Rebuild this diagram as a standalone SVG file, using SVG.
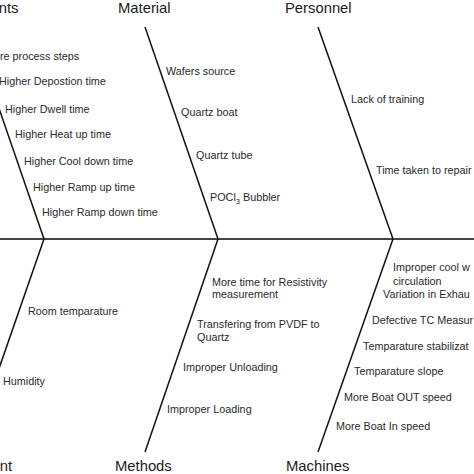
<svg xmlns="http://www.w3.org/2000/svg" width="474" height="474" viewBox="0 0 474 474">
<style>
.cat{font-family:"Liberation Sans",Arial,sans-serif;font-size:14.8px;fill:#1a1a1a}
.lab{font-family:"Liberation Sans",Arial,sans-serif;font-size:10.8px;fill:#2a2a2a}
.bone{stroke:#111;stroke-width:1.5;fill:none}
.spine{stroke:#444;stroke-width:2;fill:none}
</style>
<rect width="474" height="474" fill="#fff"/>
<g id="connectors">
<line class="spine" x1="0" y1="239" x2="474" y2="239"/>
<line class="bone" x1="-29" y1="27" x2="44" y2="239"/>
<line class="bone" x1="145" y1="27" x2="218" y2="239"/>
<line class="bone" x1="318" y1="27" x2="393" y2="239"/>
<line class="bone" x1="44" y1="239" x2="-30" y2="452"/>
<line class="bone" x1="218" y1="239" x2="145" y2="452"/>
<line class="bone" x1="393" y1="239" x2="318" y2="452"/>
</g>
<g id="measurements">
<text class="cat" x="18.5" y="13" text-anchor="end">nts</text>
<text class="lab" x="0" y="60">re process steps</text>
<text class="lab" x="-1" y="85">Higher Depostion time</text>
<text class="lab" x="5" y="113">Higher Dwell time</text>
<text class="lab" x="15" y="138">Higher Heat up time</text>
<text class="lab" x="24" y="165">Higher Cool down time</text>
<text class="lab" x="33" y="191">Higher Ramp up time</text>
<text class="lab" x="42" y="216">Higher Ramp down time</text>
</g>
<g id="material">
<text class="cat" x="118" y="13">Material</text>
<text class="lab" x="166" y="75">Wafers source</text>
<text class="lab" x="181" y="116">Quartz boat</text>
<text class="lab" x="196" y="159">Quartz tube</text>
<text class="lab" x="210" y="201">POCl<tspan font-size="7.5" dy="3">3</tspan><tspan dy="-3"> Bubbler</tspan></text>
</g>
<g id="personnel">
<text class="cat" x="285" y="13">Personnel</text>
<text class="lab" x="351" y="103">Lack of training</text>
<text class="lab" x="376" y="174">Time taken to repair</text>
</g>
<g id="environment">
<text class="cat" x="12" y="471" text-anchor="end">nt</text>
<text class="lab" x="28" y="315">Room temparature</text>
<text class="lab" x="3" y="385">Humidity</text>
</g>
<g id="methods">
<text class="cat" x="115" y="471">Methods</text>
<text class="lab" x="212" y="286">More time for Resistivity</text>
<text class="lab" x="212" y="298">measurement</text>
<text class="lab" x="197" y="328">Transfering from PVDF to</text>
<text class="lab" x="197" y="341">Quartz</text>
<text class="lab" x="183" y="371">Improper Unloading</text>
<text class="lab" x="167" y="413">Improper Loading</text>
</g>
<g id="machines">
<text class="cat" x="286" y="471">Machines</text>
<text class="lab" x="393" y="271">Improper cool w</text>
<text class="lab" x="393" y="285">circulation</text>
<text class="lab" x="383" y="298">Variation in Exhau</text>
<text class="lab" x="372" y="324">Defective TC Measur</text>
<text class="lab" x="363" y="350">Temparature stabilizat</text>
<text class="lab" x="354" y="375">Temparature slope</text>
<text class="lab" x="344" y="401">More Boat OUT speed</text>
<text class="lab" x="336" y="430">More Boat In speed</text>
</g>
</svg>
